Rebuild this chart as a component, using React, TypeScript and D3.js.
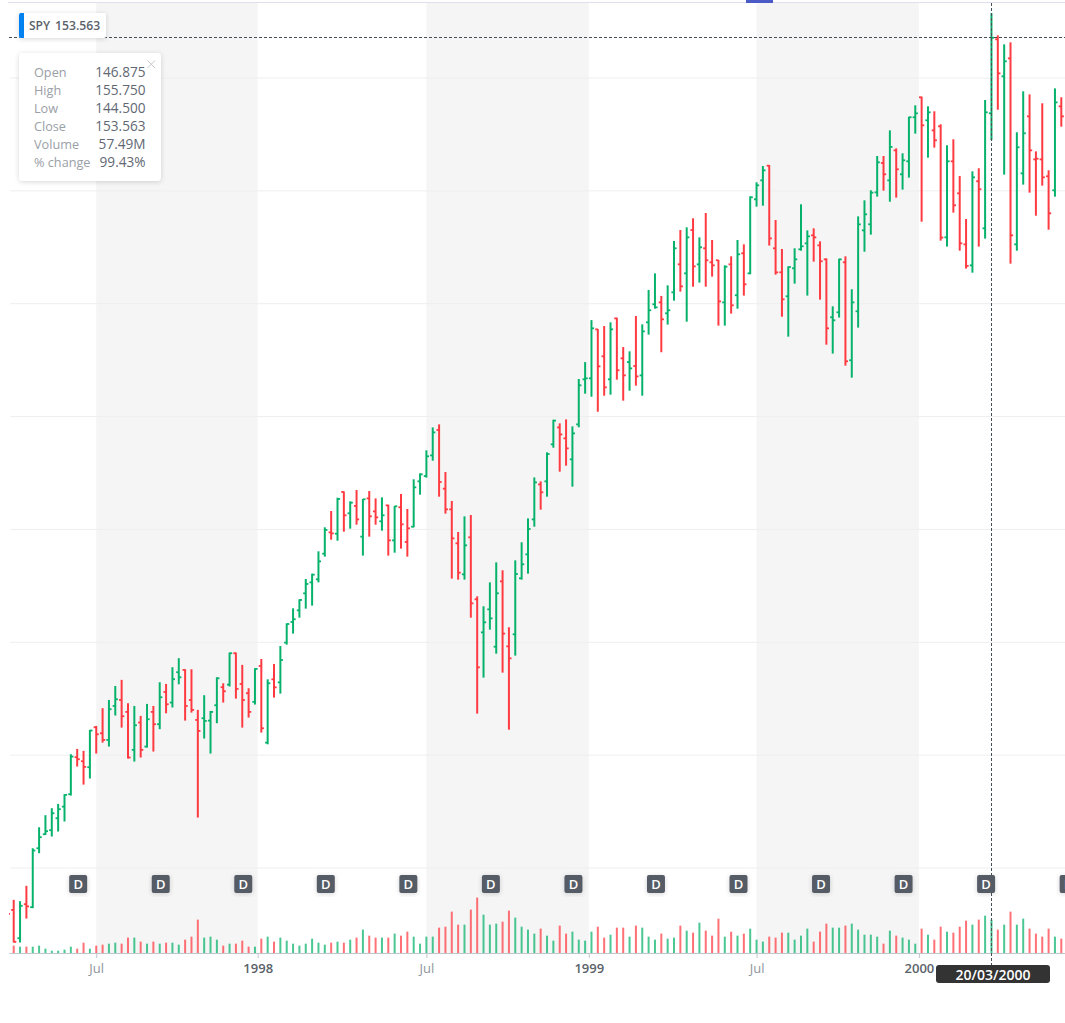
import { useEffect, useRef } from "react";
import * as d3 from "d3";

const WIDTH = 1065;
const HEIGHT = 1023;

// Weekly SPY bars. The first one sits mostly outside the plot.
const opens = [
  76.4, 76.29, 73.78, 76.79, 76.53, 81.75, 82.99, 83.35, 84.41, 85.44, 86.54, 89.82, 89.46, 88.93, 92.47, 91.94, 91.35, 94.36, 94.89, 93.83,
  90.47, 92.89, 90.76, 93.83, 92.74, 95.6, 94.66, 97.35, 97.55, 94.89, 93.12, 93.27, 93.06, 94.42, 96.02, 96.25, 99.03, 96.31, 95.49, 94.72,
  97.9, 91.11, 96.72, 96.45, 99.97, 101.8, 102.83, 104.34, 105.31, 105.58, 107.85, 109.74, 109.62, 113.32, 111.43, 112.08, 109.36, 112.75, 111.6, 110.72,
  112.13, 109.03, 111.96, 108.89, 110.24, 114.26, 114.73, 116.56, 118.81, 113.61, 111.78, 108.77, 106.02, 109.3, 103.81, 100.88, 102.92, 99.61, 105.4, 99.64,
  100.71, 105.67, 107.79, 110.89, 113.99, 114.26, 117.54, 119.04, 118.07, 116.21, 119.31, 123.3, 123.39, 127.73, 125.34, 123.3, 128.7, 125.16, 124.83, 124.48,
  123.65, 128.35, 129.95, 130.12, 129.15, 131.01, 133.49, 132.69, 136.53, 133.49, 134.91, 133.67, 133.85, 130.12, 133.49, 130.75, 134.47, 132.69, 139.25, 140.93,
  142.23, 134.91, 132.78, 130.66, 133.14, 134.82, 135.35, 136.06, 135.17, 133.93, 128.8, 129.24, 133.67, 124.99, 129.33, 136.5, 137.04, 139.87, 142.47, 140.93,
  143.59, 141.47, 142.62, 146.52, 148.29, 146.25, 145.36, 145.72, 135.88, 142.62, 139.78, 135.26, 133.4, 140.85, 136.68, 146.875, 153.43, 150.15, 151.74, 135.26,
  141.55, 146.6, 142.79, 142.79, 141.29, 140.05, 147.49,
];
const highs = [
  77.6, 77.18, 77.06, 78.42, 81.75, 83.61, 84.68, 85.3, 85.68, 86.54, 90.08, 90.55, 90.38, 92.24, 92.59, 94.16, 94.89, 96.13, 96.67, 94.6,
  94.36, 93.48, 94.54, 94.36, 96.46, 96.31, 97.79, 98.59, 97.61, 97.61, 94.01, 95.31, 93.92, 96.9, 96.37, 99.09, 99.09, 98.0, 95.93, 97.7,
  98.52, 96.72, 98.08, 99.67, 101.68, 103.01, 103.81, 105.61, 106.08, 108.06, 110.19, 111.63, 112.81, 113.37, 112.49, 113.49, 112.7, 113.4, 112.75, 112.84,
  112.19, 112.08, 113.14, 111.81, 114.44, 114.97, 117.01, 119.04, 119.31, 115.09, 112.52, 109.77, 111.16, 111.28, 104.07, 103.19, 105.31, 107.08, 106.38, 101.33,
  107.26, 108.86, 110.98, 114.61, 114.26, 116.83, 119.72, 119.4, 119.75, 119.13, 123.33, 124.83, 128.55, 127.76, 128.02, 128.35, 128.76, 126.16, 125.78, 128.91,
  128.17, 131.22, 132.69, 130.69, 131.63, 135.56, 136.53, 136.77, 137.57, 135.88, 138.04, 135.65, 133.88, 133.4, 134.2, 135.65, 135.26, 139.52, 140.76, 142.2,
  142.29, 137.42, 134.85, 133.31, 134.91, 138.81, 136.5, 136.68, 135.53, 134.02, 129.77, 133.99, 134.2, 131.28, 137.74, 139.16, 140.05, 143.09, 143.09, 145.36,
  143.77, 143.33, 146.57, 147.58, 148.35, 147.49, 147.05, 145.9, 144.04, 144.57, 141.32, 137.51, 141.73, 142.0, 148.05, 155.75, 153.78, 152.98, 153.16, 145.19,
  148.82, 148.55, 143.5, 147.76, 141.82, 149.08, 148.29,
];
const lows = [
  74.9, 73.4, 73.4, 75.52, 76.44, 81.31, 82.93, 82.79, 83.23, 84.12, 86.42, 88.99, 87.39, 87.93, 90.14, 91.11, 90.76, 93.51, 92.44, 89.7,
  89.43, 89.79, 90.67, 90.32, 92.3, 93.71, 94.22, 96.28, 93.06, 93.77, 84.47, 91.47, 90.14, 92.83, 94.66, 96.08, 95.01, 92.44, 93.33, 94.48,
  92.0, 90.96, 95.1, 95.45, 99.79, 100.77, 102.18, 102.98, 103.25, 105.31, 107.59, 109.09, 109.0, 109.8, 110.07, 110.42, 107.68, 109.36, 110.42, 109.89,
  107.68, 107.94, 108.3, 107.59, 110.19, 113.08, 114.59, 116.09, 112.9, 111.4, 105.64, 105.55, 105.55, 102.18, 93.68, 96.87, 101.12, 98.99, 97.31, 92.26,
  98.82, 105.55, 106.08, 110.24, 111.75, 112.9, 117.24, 115.12, 115.65, 113.79, 119.05, 122.03, 121.76, 120.43, 121.85, 121.94, 123.27, 121.41, 122.29, 122.74,
  121.85, 127.26, 129.56, 125.7, 128.15, 130.27, 131.07, 128.41, 131.51, 131.87, 131.51, 132.4, 128.06, 128.06, 129.12, 129.56, 130.72, 132.61, 138.6, 138.69,
  135.15, 132.58, 128.85, 127.08, 131.78, 134.7, 130.72, 133.73, 130.36, 126.37, 125.58, 128.77, 124.51, 123.45, 127.88, 134.61, 136.12, 139.49, 140.02, 139.04,
  139.4, 140.11, 141.17, 145.07, 137.27, 142.94, 143.83, 135.59, 135.06, 138.07, 134.7, 133.11, 132.75, 135.06, 135.77, 144.5, 147.19, 141.44, 133.55, 134.7,
  140.55, 139.84, 137.8, 140.46, 136.56, 139.49, 145.69,
];
const closes = [
  75.93, 73.46, 76.65, 76.6, 81.55, 82.73, 83.26, 84.85, 85.21, 86.48, 89.87, 89.64, 88.96, 92.18, 91.85, 91.35, 94.07, 94.95, 93.45, 89.79,
  92.65, 90.47, 93.18, 92.74, 95.13, 94.51, 96.73, 96.9, 94.36, 94.01, 92.15, 93.03, 93.83, 96.81, 95.66, 99.03, 95.87, 94.89, 93.83, 97.64,
  92.38, 96.37, 96.01, 98.43, 101.62, 102.04, 103.75, 105.17, 105.99, 107.17, 109.95, 109.65, 112.7, 111.25, 112.37, 110.89, 112.67, 111.16, 111.07, 111.25,
  109.03, 112.05, 110.45, 110.1, 113.73, 114.88, 116.48, 118.6, 114.2, 111.78, 109.21, 106.17, 108.59, 103.45, 97.78, 101.77, 102.12, 104.34, 100.77, 98.58,
  106.05, 106.91, 110.04, 114.17, 113.29, 116.68, 119.64, 118.42, 117.18, 118.51, 122.77, 123.39, 127.82, 124.45, 122.59, 127.73, 124.1, 123.65, 124.27, 123.56,
  127.55, 129.42, 129.68, 128.62, 129.42, 134.91, 131.54, 135.88, 133.31, 135.0, 133.85, 133.4, 130.21, 133.28, 129.86, 134.38, 131.72, 139.43, 140.49, 141.82,
  135.79, 132.78, 130.39, 133.25, 133.93, 135.09, 135.97, 135.88, 133.76, 127.82, 128.53, 133.93, 124.9, 130.12, 137.03, 137.92, 139.84, 142.53, 141.47, 143.89,
  141.91, 142.71, 146.52, 146.87, 145.81, 146.96, 144.48, 135.86, 142.62, 138.72, 135.35, 133.35, 141.2, 140.14, 146.96, 153.563, 150.41, 151.48, 136.06, 143.86,
  145.1, 143.59, 142.85, 141.2, 138.01, 147.84, 146.6,
];
// Volume in millions of shares
const volumes = [
  9.0, 12.7, 10.9, 10.9, 10.9, 12.7, 7.5, 4.0, 4.0, 5.8, 10.9, 7.5, 17.8, 7.5, 12.7, 14.4, 16.1, 17.8, 16.1, 26.5,
  26.5, 19.6, 16.1, 19.6, 16.1, 17.8, 17.8, 14.4, 23.0, 28.2, 57.5, 26.5, 28.2, 23.0, 12.7, 16.1, 16.1, 21.3, 10.9, 10.9,
  24.7, 28.2, 19.6, 26.5, 21.3, 16.1, 12.7, 16.1, 24.7, 17.8, 14.4, 17.8, 19.6, 17.8, 23.0, 26.5, 40.3, 29.9, 26.5, 26.5,
  26.5, 33.4, 29.9, 36.8, 28.2, 16.1, 28.2, 28.2, 43.7, 45.4, 71.3, 48.9, 48.9, 74.8, 95.5, 66.1, 48.9, 50.6, 54.1, 73.0,
  61.0, 45.4, 40.3, 33.4, 42.0, 29.9, 21.3, 47.2, 33.4, 36.8, 23.0, 21.3, 36.8, 45.4, 26.5, 31.6, 43.7, 43.7, 28.2, 47.2,
  43.7, 28.2, 23.0, 33.4, 24.7, 26.5, 47.2, 38.5, 35.1, 52.3, 38.5, 29.9, 59.2, 28.2, 36.8, 29.9, 33.4, 42.0, 23.0, 19.6,
  28.2, 26.5, 35.1, 35.1, 23.0, 29.9, 42.0, 19.6, 36.8, 50.6, 43.7, 43.7, 47.2, 50.6, 40.3, 31.6, 31.6, 28.2, 16.1, 38.5,
  29.9, 26.5, 23.0, 16.1, 42.0, 31.6, 23.0, 45.4, 36.8, 35.1, 45.4, 55.8, 48.9, 57.5, 64.4, 57.49, 40.3, 48.9, 71.3, 48.9,
  59.2, 42.0, 33.4, 28.2, 42.0, 28.2, 24.7,
];
const gridPrices = [80, 90, 100, 110, 120, 130, 140, 150];
const xTickDates = ["1997-07-07", "1998-01-01", "1998-07-06", "1999-01-01", "1999-07-05", "1999-12-31"];
const xTickLabels = ["Jul", "1998", "Jul", "1999", "Jul", "2000"];
const dividendDates = [
  "1997-06-16", "1997-09-15", "1997-12-15", "1998-03-16", "1998-06-15", "1998-09-14", "1998-12-14",
  "1999-03-15", "1999-06-14", "1999-09-13", "1999-12-13", "2000-03-13", "2000-06-12",
];
const legendLabels = ["Open", "High", "Low", "Close", "Volume", "% change"];
const legendValues = ["146.875", "155.750", "144.500", "153.563", "57.49M", "99.43%"];

const UP = "#06b26b";
const DOWN = "#ff3a41";
const FONT = "'Open Sans', sans-serif";

function parseDay(s: string): Date {
  const [y, m, d] = s.split("-").map(Number);
  return new Date(y, m - 1, d);
}

export default function App(): JSX.Element {
  const svgRef = useRef<SVGSVGElement>(null);

  useEffect(() => {
    const svg = d3.select(svgRef.current);
    svg.selectAll("*").remove();

    const weeks = d3.timeMonday.range(new Date(1997, 2, 31), new Date(2000, 6, 1)).slice(0, closes.length);
    const bars = weeks.map((date, i) => ({
      date,
      open: opens[i],
      high: highs[i],
      low: lows[i],
      close: closes[i],
      volume: volumes[i],
      up: i > 0 ? closes[i] >= closes[i - 1] : false,
    }));

    const x = d3.scaleTime().domain([weeks[0], weeks[weeks.length - 1]]).range([7.35, 1061.3]);
    const y = d3.scaleLinear().domain([80, 150]).range([868, 78]);
    const yVol = d3.scaleLinear().domain([0, 100]).range([953, 895]);

    const defs = svg.append("defs");
    defs.append("clipPath").attr("id", "plot")
      .append("rect").attr("x", 9).attr("y", 0).attr("width", WIDTH - 9).attr("height", 953);
    const shadow = defs.append("filter").attr("id", "soft")
      .attr("x", "-20%").attr("y", "-20%").attr("width", "140%").attr("height", "140%");
    shadow.append("feDropShadow").attr("dx", 0).attr("dy", 1).attr("stdDeviation", 2.5)
      .attr("flood-color", "#000").attr("flood-opacity", 0.16);

    // Alternating half year bands
    const bandEdges = xTickDates.map(parseDay);
    d3.range(0, bandEdges.length, 2).forEach(i => {
      svg.append("rect")
        .attr("x", x(bandEdges[i]))
        .attr("y", 3)
        .attr("width", x(bandEdges[i + 1]) - x(bandEdges[i]))
        .attr("height", 950)
        .attr("fill", "#f5f5f5");
    });

    // Grid
    svg.append("g").selectAll("line").data(gridPrices).join("line")
      .attr("x1", 10).attr("x2", WIDTH)
      .attr("y1", d => y(d)).attr("y2", d => y(d))
      .attr("stroke", "#eeeeee").attr("stroke-width", 1);
    svg.append("line").attr("x1", 8).attr("x2", WIDTH).attr("y1", 2.5).attr("y2", 2.5)
      .attr("stroke", "#e0e0ec").attr("stroke-width", 1);
    svg.append("rect").attr("x", 746).attr("y", 0).attr("width", 27).attr("height", 3).attr("fill", "#4b5bc6");

    // Volume
    const plot = svg.append("g").attr("clip-path", "url(#plot)");
    plot.append("g").selectAll("rect").data(bars).join("rect")
      .attr("x", d => x(d.date) - 1)
      .attr("width", 2)
      .attr("y", d => yVol(d.volume))
      .attr("height", d => yVol(0) - yVol(d.volume))
      .attr("fill", d => (d.up ? UP : DOWN))
      .attr("fill-opacity", 0.72);

    // OHLC bars
    const ohlc = plot.append("g").selectAll("g").data(bars).join("g")
      .attr("stroke", d => (d.up ? UP : DOWN));
    ohlc.append("line")
      .attr("x1", d => x(d.date)).attr("x2", d => x(d.date))
      .attr("y1", d => y(d.high)).attr("y2", d => y(d.low))
      .attr("stroke-width", 2);
    ohlc.append("line")
      .attr("x1", d => x(d.date) - 2.6).attr("x2", d => x(d.date))
      .attr("y1", d => y(d.open)).attr("y2", d => y(d.open))
      .attr("stroke-width", 1.8);
    ohlc.append("line")
      .attr("x1", d => x(d.date)).attr("x2", d => x(d.date) + 2.6)
      .attr("y1", d => y(d.close)).attr("y2", d => y(d.close))
      .attr("stroke-width", 1.8);

    // Time axis
    const axis = d3.axisBottom(x)
      .tickValues(bandEdges)
      .tickSize(5)
      .tickPadding(6)
      .tickFormat((_, i) => xTickLabels[i]);
    const axisG = svg.append("g").attr("transform", "translate(0,953)").call(axis);
    axisG.select(".domain").attr("d", `M9.5,0.5H${WIDTH}`).attr("stroke", "#c1c5cc");
    axisG.selectAll(".tick line").attr("stroke", "#c1c5cc");
    axisG.selectAll(".tick text")
      .attr("font-family", FONT)
      .attr("font-size", 13)
      .attr("font-weight", (_, i) => (i % 2 ? 600 : 400))
      .attr("fill", (_, i) => (i % 2 ? "#5b636a" : "#8f959c"));

    // Crosshair on the selected week
    const selected = bars[bars.length - 12];
    const crossY = Math.floor(y(selected.close)) + 0.5;
    const crossX = Math.round(x(selected.date)) + 0.5;
    const cross = svg.append("g").attr("stroke", "#464e56").attr("stroke-width", 1).attr("stroke-dasharray", "3,2");
    cross.append("line").attr("x1", 9).attr("x2", WIDTH).attr("y1", crossY).attr("y2", crossY);
    cross.append("line").attr("x1", crossX).attr("x2", crossX).attr("y1", 3).attr("y2", 966);

    // Dividend markers
    const dividends = svg.append("g").selectAll("g").data(dividendDates.map(parseDay)).join("g")
      .attr("transform", d => `translate(${x(d) + 1},884)`);
    dividends.append("rect")
      .attr("x", -9).attr("y", -9).attr("width", 18).attr("height", 18).attr("rx", 2)
      .attr("fill", "#555b66").attr("filter", "url(#soft)");
    dividends.append("text")
      .attr("text-anchor", "middle").attr("dy", "0.36em")
      .attr("font-family", FONT).attr("font-size", 13).attr("font-weight", 600)
      .attr("fill", "#fff").text("D");

    // Date flag
    svg.append("rect").attr("x", 936).attr("y", 965).attr("width", 114).attr("height", 18).attr("rx", 3).attr("fill", "#333");
    svg.append("text").attr("x", 993).attr("y", 975).attr("dy", "0.36em").attr("text-anchor", "middle")
      .attr("font-family", FONT).attr("font-size", 14).attr("font-weight", 600).attr("fill", "#fff")
      .text("20/03/2000");

    // Symbol flag
    svg.append("rect").attr("x", 19).attr("y", 13).attr("width", 87).attr("height", 25).attr("rx", 2)
      .attr("fill", "#fff").attr("filter", "url(#soft)");
    svg.append("path").attr("d", "M24,13H21a2,2 0 0 0 -2,2V36a2,2 0 0 0 2,2H24Z").attr("fill", "#0081f2");
    svg.append("text").attr("x", 29).attr("y", 26).attr("dy", "0.36em")
      .attr("font-family", FONT).attr("font-size", 12).attr("font-weight", 600).attr("fill", "#5a626a").text("SPY");
    svg.append("text").attr("x", 55).attr("y", 26).attr("dy", "0.36em")
      .attr("font-family", FONT).attr("font-size", 12.2).attr("font-weight", 600).attr("fill", "#5a626a").text("153.563");

    // Readout box
    svg.append("rect").attr("x", 19).attr("y", 53).attr("width", 142).attr("height", 128).attr("rx", 4)
      .attr("fill", "#fff").attr("filter", "url(#soft)");
    svg.append("path").attr("d", "M147.5,60.5L155,68M155,60.5L147.5,68").attr("stroke", "#c4c8cd").attr("stroke-width", 1).attr("fill", "none");
    const rows = svg.append("g").selectAll("g").data(legendLabels).join("g")
      .attr("transform", (_, i) => `translate(0,${72 + i * 18})`)
      .attr("font-family", FONT);
    rows.append("text").attr("x", 34).attr("dy", "0.36em").attr("font-size", 12.7).attr("fill", "#9aa0a6").text(d => d);
    rows.append("text").attr("x", 145.5).attr("dy", "0.36em").attr("text-anchor", "end").attr("font-size", 13.6).attr("fill", "#5f6873")
      .text((_, i) => legendValues[i]);
  }, []);

  return <svg ref={svgRef} width={WIDTH} height={HEIGHT} style={{ position: "absolute", left: 0, top: 0, display: "block" }} />;
}
